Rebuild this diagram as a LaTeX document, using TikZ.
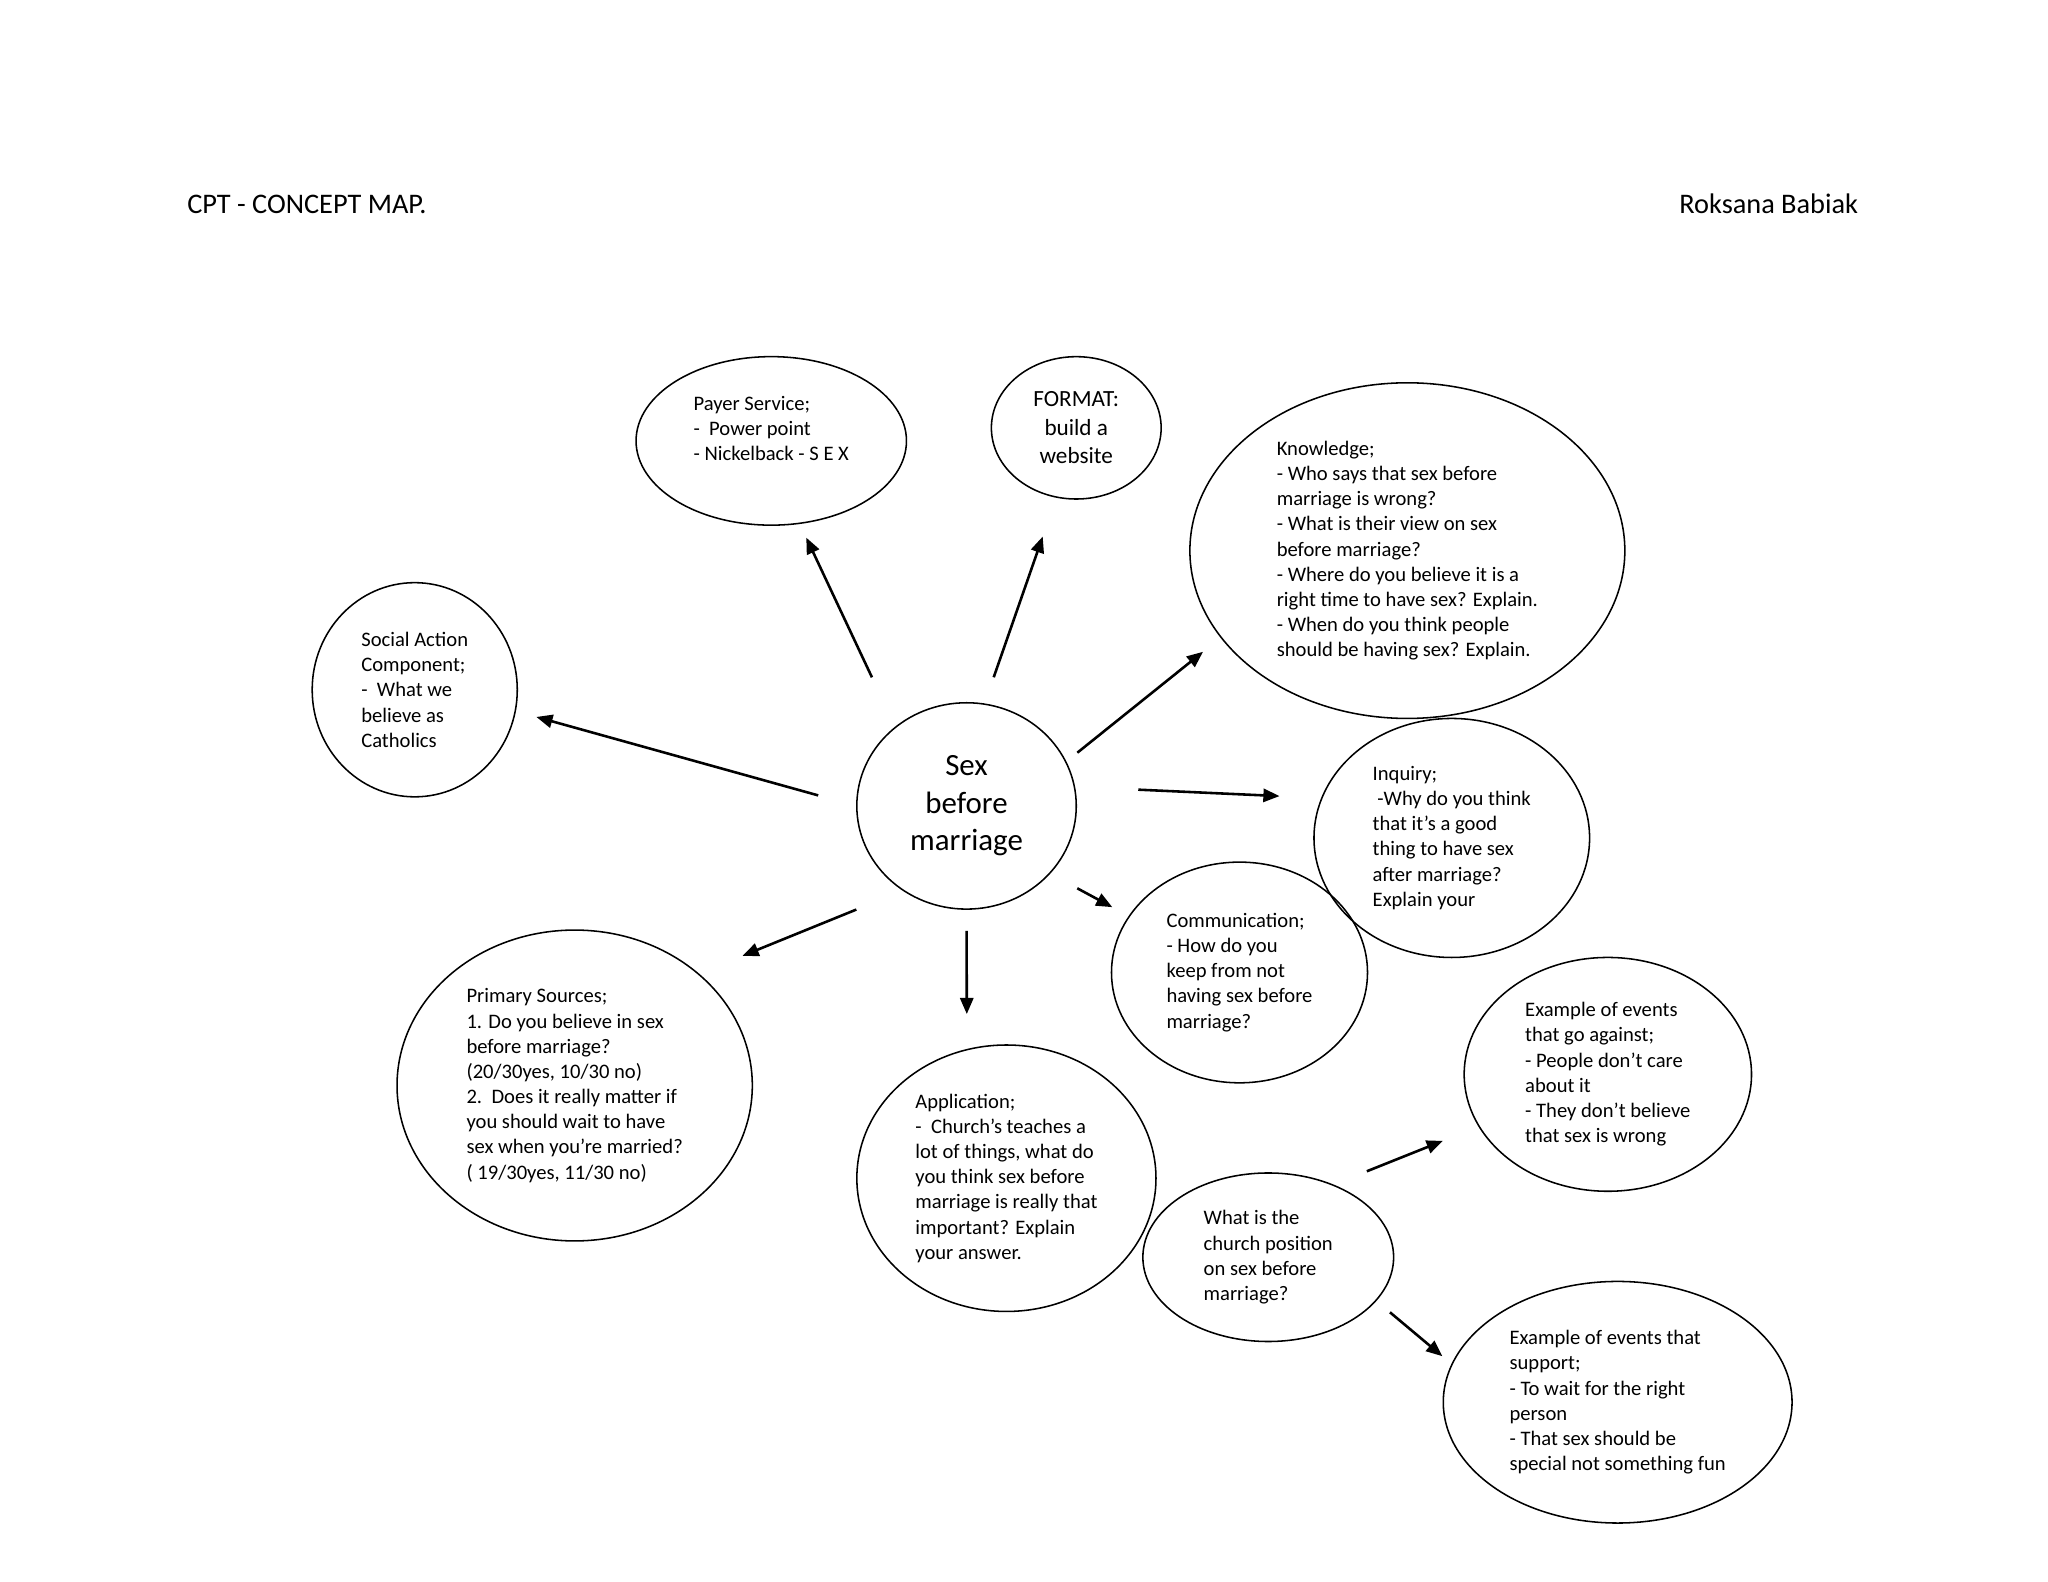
\documentclass[tikz,border=0pt]{standalone}
\usepackage{fontspec}
\setmainfont{Carlito}
\usetikzlibrary{shapes.geometric,arrows.meta}

\begin{document}
\begin{tikzpicture}[
  bubble/.style={ellipse,draw,line width=0.6pt,inner sep=0pt,align=left,
    font=\fontsize{8}{9.77}\selectfont},
  arr/.style={line width=1pt,-{Triangle[length=2.2mm,width=1.8mm]}}
]

\useasboundingbox (0,0) rectangle (27.94,21.58);

\node at (2.548,18.674) [anchor=base west,inner sep=0pt,font=\fontsize{11}{13}\selectfont] (title) {CPT - CONCEPT MAP.};
\node at (25.356,18.674) [anchor=base east,inner sep=0pt,font=\fontsize{11}{13}\selectfont] (author) {Roksana Babiak};

\node at (13.186,10.585) [bubble,align=center,font=\fontsize{12}{14.5}\selectfont,minimum width=2.994cm,minimum height=2.815cm] (sex) {Sex\\before\\marriage};

\node at (10.522,15.565) [bubble,minimum width=3.689cm,minimum height=2.299cm] (payer) {Payer Service;\\-\ \ Power point\\- Nickelback - S E X\\[0pt]};
\node at (14.683,15.743) [bubble,align=center,font=\fontsize{9}{11}\selectfont,minimum width=2.316cm,minimum height=1.942cm] (format) {FORMAT:\\build a\\website};
\node at (19.200,14.068) [bubble,minimum width=5.934cm,minimum height=4.579cm] (know) {Knowledge;\\- Who says that sex before\\marriage is wrong?\\- What is their view on sex\\before marriage?\\- Where do you believe it is a\\right time to have sex? Explain.\\- When do you think people\\should be having sex? Explain.};
\node at (5.658,12.170) [bubble,minimum width=2.798cm,minimum height=2.922cm] (social) {Social Action\\Component;\\-\ \ What we\\believe as\\Catholics};
\node at (19.806,10.148) [bubble,minimum width=3.760cm,minimum height=3.261cm] (inquiry) {Inquiry;\\\ -Why do you think\\that it's a good\\thing to have sex\\after marriage?\\Explain your};
\node at (16.910,8.313) [bubble,minimum width=3.493cm,minimum height=3.011cm] (comm) {Communication;\\- How do you\\keep from not\\having sex before\\marriage?};
\node at (7.840,6.771) [bubble,minimum width=4.847cm,minimum height=4.241cm] (primary) {Primary Sources;\\1. Do you believe in sex\\before marriage?\\(20/30yes, 10/30 no)\\2.\ \ Does it really matter if\\you should wait to have\\sex when you're married?\\( 19/30yes, 11/30 no)};
\node at (13.730,5.506) [bubble,minimum width=4.081cm,minimum height=3.635cm] (appl) {Application;\\-\ \ Church's teaches a\\lot of things, what do\\you think sex before\\marriage is really that\\important? Explain\\your answer.};
\node at (17.302,4.428) [bubble,minimum width=3.421cm,minimum height=2.299cm] (church) {What is the\\church position\\on sex before\\marriage?};
\node at (21.935,6.923) [bubble,minimum width=3.920cm,minimum height=3.190cm] (against) {Example of events\\that go against;\\- People don't care\\about it\\- They don't believe\\that sex is wrong};
\node at (22.069,2.450) [bubble,minimum width=4.758cm,minimum height=3.296cm] (support) {Example of events that\\support;\\- To wait for the right\\person\\- That sex should be\\special not something fun};

\draw[arr,shorten <=0.743cm,shorten >=0.205cm] (sex.132) -- (payer.-71);
\draw[arr,shorten <=0.377cm,shorten >=0.560cm] (sex.80) -- (format.-106);
\draw[arr,shorten <=0.191cm,shorten >=0.306cm] (sex.24) -- (know.-155);
\draw[arr,shorten <=0.536cm,shorten >=0.289cm] (sex.180) -- (social.-12);
\draw[arr,shorten <=0.862cm,shorten >=0.568cm] (sex.10) -- (inquiry.163);
\draw[arr,shorten <=0.418cm,shorten >=0.253cm] (sex.-39) -- (comm.153);
\draw[arr,shorten <=0.682cm,shorten >=0.641cm] (sex.-127) -- (primary.42);
\draw[arr,shorten <=0.285cm,shorten >=0.476cm] (sex.-90) -- (appl.107);
\draw[arr,shorten <=0.487cm,shorten >=0.524cm] (church.48) -- (against.-158);
\draw[arr,shorten <=0.241cm,shorten >=0.163cm] (church.-22) -- (support.167);

\end{tikzpicture}
\end{document}
